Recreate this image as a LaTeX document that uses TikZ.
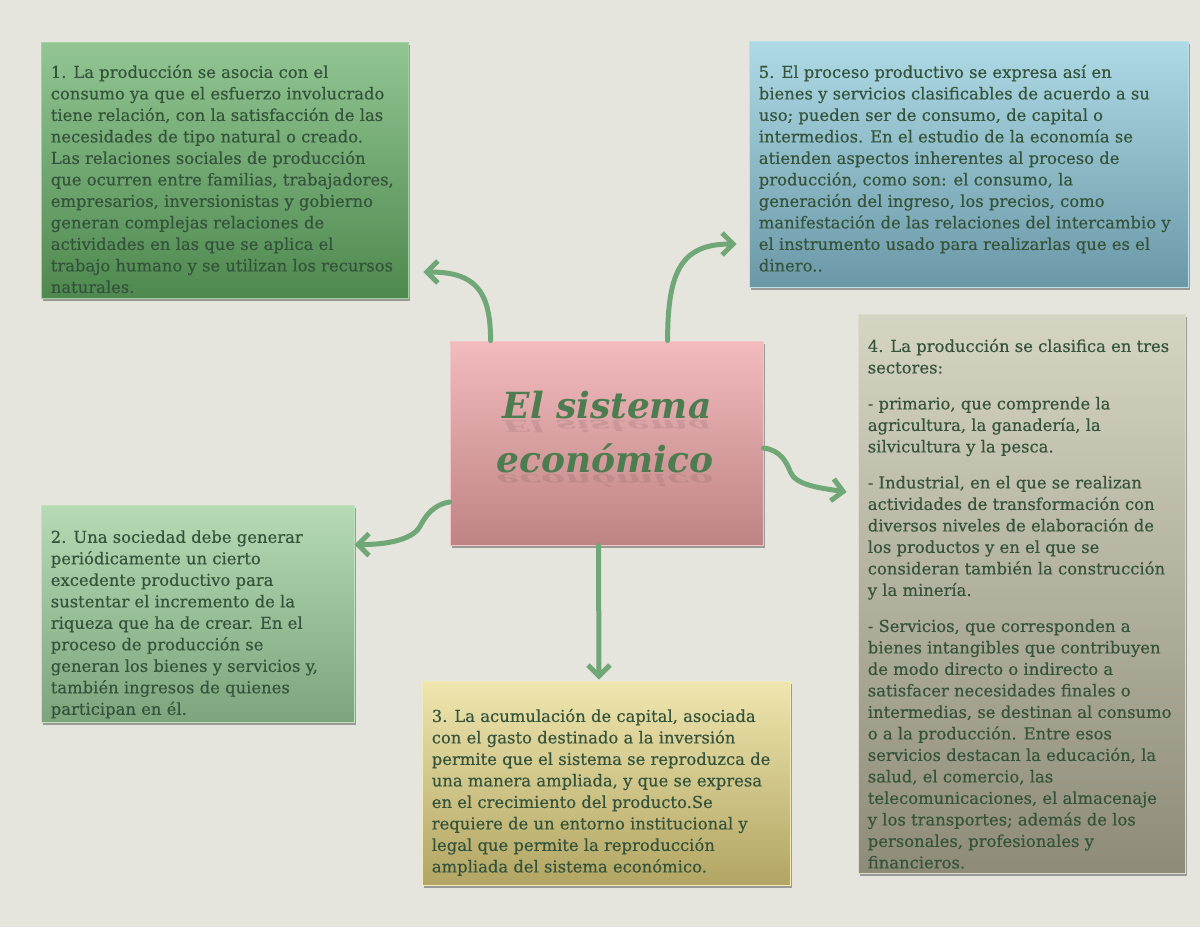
\documentclass[tikz,border=0pt]{standalone}
\usepackage{fontspec}
\setmainfont{DejaVu Serif}
\newfontfamily\bodyfont{DejaVu Serif}[FakeBold=0.35]
\usetikzlibrary{arrows.meta,shadows,calc}
\definecolor{bg}{HTML}{E5E4DD}
\definecolor{txtgreen}{HTML}{34533A}
\definecolor{titlegreen}{HTML}{4C7C4F}
\definecolor{arrowgreen}{HTML}{6FA777}
\definecolor{gAtop}{HTML}{92C592}
\definecolor{gAbot}{HTML}{4E894F}
\definecolor{bltop}{HTML}{AEDAE6}
\definecolor{blbot}{HTML}{6B98A7}
\definecolor{pktop}{HTML}{F2BBBD}
\definecolor{pkbot}{HTML}{BE8385}
\definecolor{grtop}{HTML}{D6D4C3}
\definecolor{grbot}{HTML}{8E8C79}
\definecolor{lgtop}{HTML}{B5DAB4}
\definecolor{lgbot}{HTML}{7DA47D}
\definecolor{yltop}{HTML}{EFE6AF}
\definecolor{ylbot}{HTML}{B2A563}
\tikzset{
  panel/.style 2 args={rectangle, inner sep=0pt, line width=0.8pt,
    draw=#1!85!white, top color=#1, bottom color=#2,
    drop shadow={shadow xshift=2pt, shadow yshift=-3pt, opacity=0.45, fill=black!75}},
  txt/.style={anchor=north west, inner sep=0pt, align=left, text=txtgreen,
    font=\bodyfont\fontsize{16.4}{21.5}\selectfont},
  ttl/.style={anchor=base, inner sep=0pt, text=titlegreen,
    font=\fontsize{36}{40}\selectfont\bfseries\itshape},
  refl/.style={anchor=base, inner sep=0pt, text=pkbot!60!black, opacity=0.16,
    yscale=-0.45, transform shape, font=\fontsize{36}{40}\selectfont\bfseries\itshape},
  arr/.style={draw=arrowgreen, line width=5pt, line cap=round,
    -{Straight Barb[length=11pt, width=22pt]}}
}
\begin{document}
\begin{tikzpicture}[x=1pt, y=-1pt]
\fill[bg] (0,0) rectangle (1200,927);
\useasboundingbox (0,0) rectangle (1200,927);

% panels
\node[panel={gAtop}{gAbot}, minimum width=367pt, minimum height=256pt] (b1) at (224.5,170) {};
\node[panel={bltop}{blbot}, minimum width=439pt, minimum height=246pt] (b5) at (968.5,164) {};
\node[panel={pktop}{pkbot}, minimum width=313pt, minimum height=204pt] (c) at (606.5,443) {};
\node[panel={grtop}{grbot}, minimum width=327pt, minimum height=559pt] (b4) at (1021.5,593.5) {};
\node[panel={lgtop}{lgbot}, minimum width=313pt, minimum height=217pt] (b2) at (197.5,613.5) {};
\node[panel={yltop}{ylbot}, minimum width=368pt, minimum height=204pt] (b3) at (606,783) {};

% title with reflection
\node[refl] (r1) at ($(c.center)+(0.5,-23)$) {El sistema};
\node[refl] (r2) at ($(c.center)+(-1.5,31)$) {económico};
\node[ttl] (t1) at ($(c.center)+(0.5,-25)$) {El sistema};
\node[ttl] (t2) at ($(c.center)+(-1.5,29)$) {económico};

% texts
\node[txt] (x1) at ($(b1.north west)+(10,23)$) {\rule{0pt}{13pt}1. La producción se asocia con el\\
consumo ya que el esfuerzo involucrado\\
tiene relación, con la satisfacción de las\\
necesidades de tipo natural o creado.\\
Las relaciones sociales de producción\\
que ocurren entre familias, trabajadores,\\
empresarios, inversionistas y gobierno\\
generan complejas relaciones de\\
actividades en las que se aplica el\\
trabajo humano y se utilizan los recursos\\
naturales.};

\node[txt] (x5) at ($(b5.north west)+(10,24)$) {\rule{0pt}{13pt}5. El proceso productivo se expresa así en\\
bienes y servicios clasificables de acuerdo a su\\
uso; pueden ser de consumo, de capital o\\
intermedios. En el estudio de la economía se\\
atienden aspectos inherentes al proceso de\\
producción, como son: el consumo, la\\
generación del ingreso, los precios, como\\
manifestación de las relaciones del intercambio y\\
el instrumento usado para realizarlas que es el\\
dinero..};

\node[txt] (x2) at ($(b2.north west)+(10,25)$) {\rule{0pt}{13pt}2. Una sociedad debe generar\\
periódicamente un cierto\\
excedente productivo para\\
sustentar el incremento de la\\
riqueza que ha de crear. En el\\
proceso de producción se\\
generan los bienes y servicios y,\\
también ingresos de quienes\\
participan en él.};

\node[txt] (x3) at ($(b3.north west)+(10,28)$) {\rule{0pt}{13pt}3. La acumulación de capital, asociada\\
con el gasto destinado a la inversión\\
permite que el sistema se reproduzca de\\
una manera ampliada, y que se expresa\\
en el crecimiento del producto.Se\\
requiere de un entorno institucional y\\
legal que permite la reproducción\\
ampliada del sistema económico.};

\node[txt] (x4) at ($(b4.north west)+(10,25)$) {\rule{0pt}{13pt}4. La producción se clasifica en tres\\
sectores:\\[14.5pt]
- primario, que comprende la\\
agricultura, la ganadería, la\\
silvicultura y la pesca.\\[14.5pt]
- Industrial, en el que se realizan\\
actividades de transformación con\\
diversos niveles de elaboración de\\
los productos y en el que se\\
consideran también la construcción\\
y la minería.\\[14.5pt]
- Servicios, que corresponden a\\
bienes intangibles que contribuyen\\
de modo directo o indirecto a\\
satisfacer necesidades finales o\\
intermedias, se destinan al consumo\\
o a la producción. Entre esos\\
servicios destacan la educación, la\\
salud, el comercio, las\\
telecomunicaciones, el almacenaje\\
y los transportes; además de los\\
personales, profesionales y\\
financieros.};

% connector ends
\coordinate (s1) at ($(c.north west)+(41,0)$);
\coordinate (e1) at ($(b1.east)+(15,102)$);
\coordinate (s5) at ($(c.north west)+(218,0)$);
\coordinate (e5) at ($(b5.west)+(-12,80)$);
\coordinate (s4) at ($(c.east)+(0,5)$);
\coordinate (e4) at ($(b4.west)+(-11,-101.5)$);
\coordinate (s2) at ($(c.west)+(0,59)$);
\coordinate (e2) at ($(b2.north east)+(0,40)$);
\coordinate (s3) at ($(c.south)+(-8,0)$);
\coordinate (e3) at ($(b3.north)+(-7,-1)$);

% connectors
\draw[arr] (s1) .. controls ($(s1)+(0,-52)$) and ($(e1)+(50,0)$) .. (e1);
\draw[arr] (s5) .. controls ($(s5)+(0,-70)$) and ($(e5)+(-55,0)$) .. (e5);
\draw[arr] (s4) .. controls ($(s4)+(17,2)$) and ($(s4)+(23,14)$) .. ($(s4)+(27,24)$)
            .. controls ($(s4)+(32,37)$) and ($(e4)+(-27,-4)$) .. (e4);
\draw[arr] (s2) .. controls ($(s2)+(-18,3)$) and ($(s2)+(-25,16)$) .. ($(s2)+(-30,25)$)
            .. controls ($(s2)+(-38,38)$) and ($(e2)+(32,0)$) .. (e2);
\draw[arr] (s3) -- (e3);
\end{tikzpicture}
\end{document}
